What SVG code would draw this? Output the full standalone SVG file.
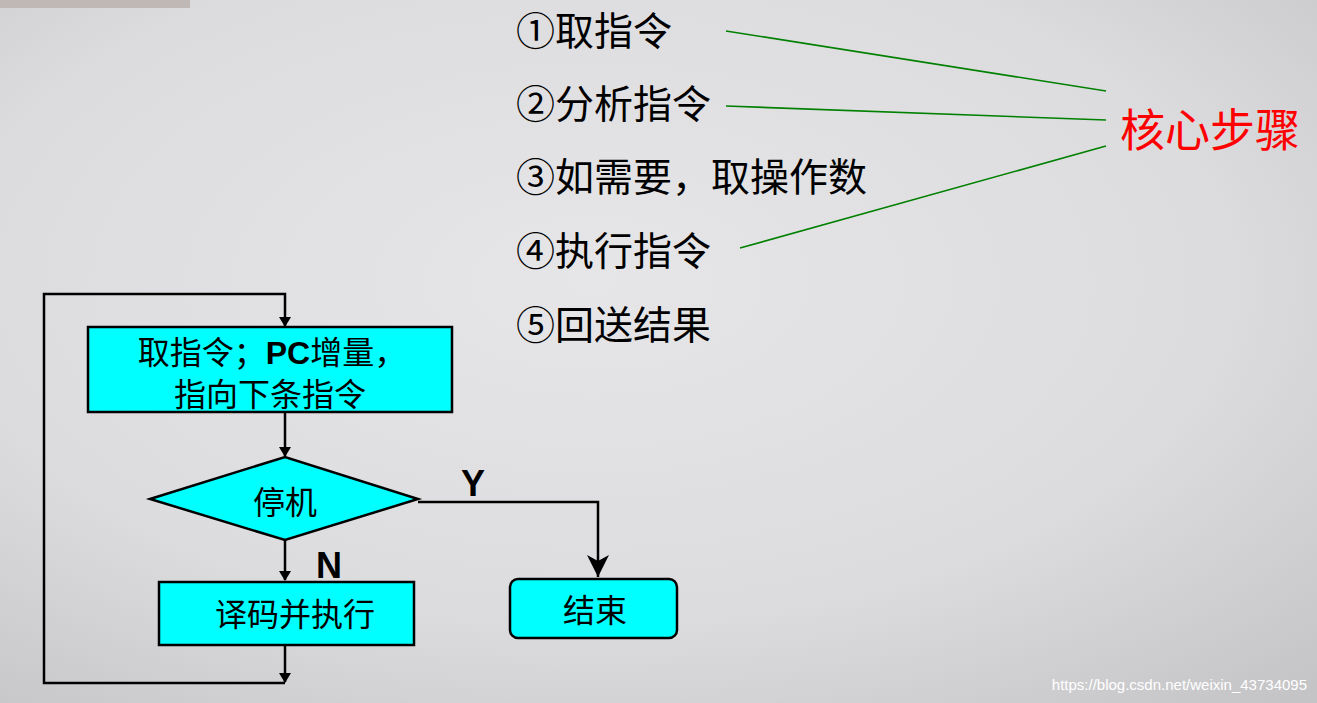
<svg xmlns="http://www.w3.org/2000/svg" width="1317" height="703" viewBox="0 0 1317 703">
<defs>
<radialGradient id="bg" cx="0.45" cy="0.4" r="0.8">
<stop offset="0" stop-color="#e6e6e8"/><stop offset="0.6" stop-color="#dcdcde"/><stop offset="1" stop-color="#c4c4c6"/>
</radialGradient>
<marker id="a" markerWidth="10" markerHeight="12" refX="9" refY="6" orient="auto" markerUnits="userSpaceOnUse"><path d="M0,0 L10,6 L0,12 z" fill="#000"/></marker>
<marker id="b" markerWidth="24" markerHeight="22" refX="22" refY="11" orient="auto" markerUnits="userSpaceOnUse"><path d="M0,0 L22,11 L0,22 L6,11 z" fill="#000"/></marker>
<style>
.n{fill:#00ffff;stroke:#000;stroke-width:2.5}
.t{font-family:"Liberation Sans","Noto Sans CJK SC",sans-serif;font-size:32px;fill:#000;text-anchor:middle}
.l{font-family:"Liberation Serif","Noto Sans CJK SC",serif;font-size:39px;fill:#000}
.c{fill:none;stroke:#000;stroke-width:2.5}
.g{stroke:#008000;stroke-width:1.6}
</style>
</defs>
<rect width="1317" height="703" fill="url(#bg)"/>
<rect x="0" y="0" width="190" height="8" fill="#c0b8b4"/>
<g id="steps">
<text class="l" x="516" y="45">①取指令</text>
<text class="l" x="516" y="118">②分析指令</text>
<text class="l" x="516" y="191">③如需要，取操作数</text>
<text class="l" x="516" y="265">④执行指令</text>
<text class="l" x="516" y="339">⑤回送结果</text>
<text x="1120" y="147" font-family="Liberation Serif,'Noto Sans CJK SC',serif" font-size="45" fill="#ff0000">核心步骤</text>
</g>
<g id="green">
<line class="g" x1="726" y1="31" x2="1106" y2="91"/>
<line class="g" x1="726" y1="106" x2="1106" y2="120"/>
<line class="g" x1="740" y1="248" x2="1106" y2="146"/>
</g>
<g id="connectors">
<path class="c" d="M285,412 V456" marker-end="url(#a)"/>
<path class="c" d="M285,540 V580" marker-end="url(#a)"/>
<path class="c" d="M285,645 V682" marker-end="url(#a)"/>
<path class="c" d="M285,683 H44 V294 H285 V326" marker-end="url(#a)"/>
<path class="c" d="M418,502 H598 V577" marker-end="url(#b)"/>
<text x="473" y="496" font-family="Liberation Sans,sans-serif" font-weight="bold" font-size="36" text-anchor="middle">Y</text>
<text x="329" y="578" font-family="Liberation Sans,sans-serif" font-weight="bold" font-size="36" text-anchor="middle">N</text>
</g>
<g id="fetch">
<rect class="n" x="88" y="327" width="364" height="85" stroke-width="1.5"/>
<text class="t" x="272" y="364">取指令；<tspan font-weight="bold">PC</tspan>增量，</text>
<text class="t" x="270" y="406">指向下条指令</text>
</g>
<g id="halt">
<polygon class="n" points="150,499 285,457 418,499 285,540"/>
<text class="t" x="285" y="514">停机</text>
</g>
<g id="exec">
<rect class="n" x="159" y="582" width="255" height="63"/>
<text class="t" x="295" y="626">译码并执行</text>
</g>
<g id="end">
<rect class="n" x="510" y="579" width="167" height="59" rx="8"/>
<text class="t" x="595" y="622">结束</text>
</g>
<text x="1307" y="690" font-family="Liberation Sans,sans-serif" font-size="15" fill="#ffffff" text-anchor="end">https://blog.csdn.net/weixin_43734095</text>
</svg>
